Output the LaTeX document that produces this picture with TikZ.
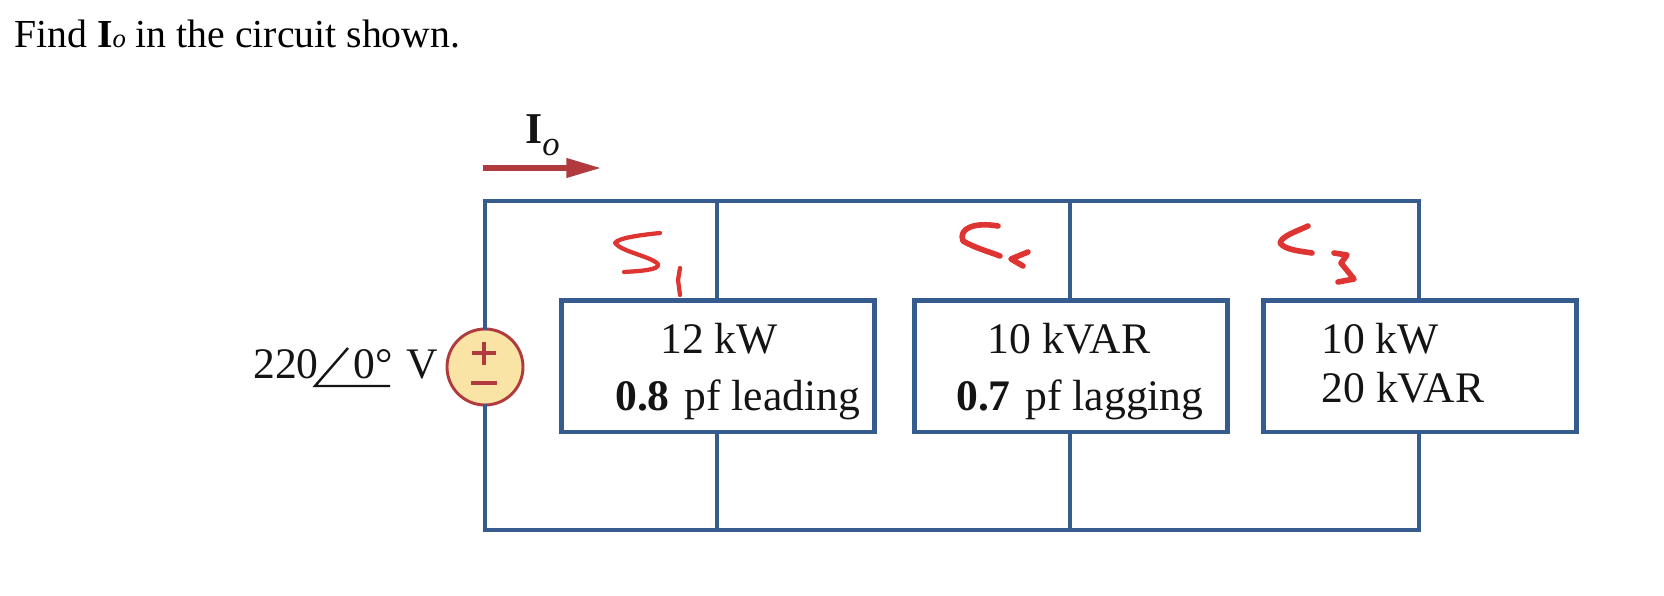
\documentclass[tikz,border=0pt]{standalone}
\usepackage{fontspec}
\setmainfont{Liberation Serif}
\usetikzlibrary{arrows.meta}
\definecolor{wire}{RGB}{54,92,143}
\definecolor{ink}{RGB}{20,20,20}
\definecolor{srcfill}{RGB}{250,228,165}
\definecolor{srcline}{RGB}{176,58,62}
\definecolor{hand}{RGB}{222,52,50}
\tikzset{
  x=0.75pt,y=-0.75pt,
  wireline/.style={draw=wire,line width=3.3pt,line cap=rect},
  loadbox/.style={draw=wire,line width=3.4pt,fill=white,inner sep=0pt,anchor=north west},
  label/.style={inner sep=0pt,anchor=base,text=ink,font=\fontsize{32.7}{34}\selectfont},
  hw/.style={draw=hand,line width=3.2pt,line cap=round,line join=round},
  hwt/.style={hw,line width=4.2pt},
}
\begin{document}
\begin{tikzpicture}
\useasboundingbox (0,0) rectangle (1664,596);
\fill[white] (0,0) rectangle (1664,596);
% title
\node[inner sep=0pt,anchor=base west,text=black,font=\fontsize{29.8}{32}\selectfont] (title) at (14,47) {Find \textbf{I}\textit{\fontsize{20}{22}\selectfont o} in the circuit shown.};
% frame coordinates
\coordinate (tl) at (485,201);
\coordinate (tr) at (1419,201);
\coordinate (bl) at (485,530);
\coordinate (br) at (1419,530);
\coordinate (t1) at (717,201);
\coordinate (b1) at (717,530);
\coordinate (t2) at (1070,201);
\coordinate (b2) at (1070,530);
% load boxes
\node[loadbox,minimum width=235pt,minimum height=98.7pt] (L1) at (559,298) {};
\node[loadbox,minimum width=235pt,minimum height=98.7pt] (L2) at (912,298) {};
\node[loadbox,minimum width=235pt,minimum height=98.7pt] (L3) at (1261,298) {};
% source
\node[circle,draw=srcline,fill=srcfill,line width=2.2pt,minimum size=57pt,inner sep=0pt] (V) at (485,367) {};
% wires
\draw[wireline] (V.north) -- (tl) -- (tr) -- (tr |- L3.north);
\draw[wireline] (V.south) -- (bl) -- (br) -- (br |- L3.south);
\draw[wireline] (t1) -- (t1 |- L1.north);
\draw[wireline] (b1) -- (b1 |- L1.south);
\draw[wireline] (t2) -- (t2 |- L2.north);
\draw[wireline] (b2) -- (b2 |- L2.south);
% source signs
\draw[srcline,line width=2.4pt] (472,353) -- (496,353) (484,342) -- (484,365);
\draw[srcline,line width=3pt] (471,383) -- (497,383);
% source label
\node[label,anchor=base west] (vA) at (253,378) {220};
\node[label,anchor=base west] (vB) at (353,378) {0°};
\node[label,anchor=base west] (vC) at (406,378) {V};
\draw[ink,line width=1.8pt] (348,348) -- (315,386) -- (390,386);
% current
\coordinate (a1) at (483,168);
\coordinate (a2) at (601,168);
\draw[draw=srcline,line width=3.8pt,-{Triangle[length=26pt,width=14pt]}] (a1) -- (a2);
\node[inner sep=0pt,anchor=base west,text=ink,font=\fontsize{33}{35}\selectfont\bfseries] (Io) at (525,143) {I};
\node[inner sep=0pt,anchor=base west,text=ink,font=\fontsize{26}{28}\selectfont\itshape] (Ios) at (542,155) {o};
% box texts
\node[label] (t11) at (719,353) {12 kW};
\node[label,anchor=base west] (t12) at (615,410) {\textbf{0.8}\hspace{0.34em}pf leading};
\node[label] (t21) at (1069,353) {10 kVAR};
\node[label,anchor=base west] (t22) at (956,410) {\textbf{0.7}\hspace{0.34em}pf lagging};
\node[label] (t31) at (1380,353) {10 kW};
\node[label] (t32) at (1403,402) {20 kVAR};
% handwriting
\draw[hw] (660,233) .. controls (640,235) and (618,238) .. (615,243) .. controls (622,252) and (650,256) .. (658,264) .. controls (660,270) and (640,271) .. (624,272);
\draw[hw] (680,268) -- (678,280) -- (680,295);
\draw[hwt] (998,226) .. controls (975,222) and (958,228) .. (963,241) .. controls (975,248) and (990,252) .. (1000,256);
\draw[hwt] (1028,252) -- (1011,259) -- (1023,266);
\draw[hwt] (1308,226) .. controls (1295,232) and (1282,236) .. (1280,243) .. controls (1285,250) and (1300,251) .. (1312,253);
\draw[hwt] (1334,253) -- (1347,255) -- (1341,263) -- (1354,279) -- (1338,282);
\end{tikzpicture}
\end{document}
